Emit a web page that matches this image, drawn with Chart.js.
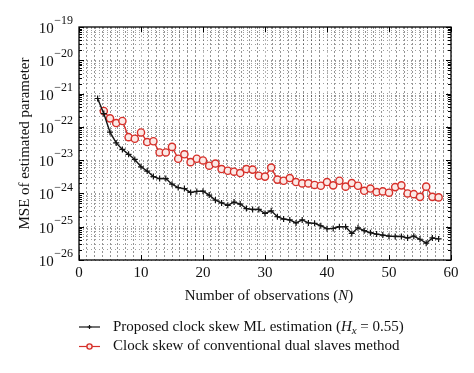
<!DOCTYPE html>
<html>
<head>
<meta charset="utf-8">
<script src="https://cdn.jsdelivr.net/npm/chart.js@4.4.0/dist/chart.umd.min.js"></script>
<style>
  html, body { margin: 0; padding: 0; background: #fff; }
  canvas { display: block; }
</style>
</head>
<body>
<canvas id="mseChart" width="474" height="373"></canvas>
<script>
// Datos (eje Y logarítmico)
const nProposed = [3, 4, 5, 6, 7, 8, 9, 10, 11, 12, 13, 14, 15, 16, 17, 18, 19, 20,
  21, 22, 23, 24, 25, 26, 27, 28, 29, 30, 31, 32, 33, 34, 35, 36, 37, 38, 39, 40,
  41, 42, 43, 44, 45, 46, 47, 48, 49, 50, 51, 52, 53, 54, 55, 56, 57, 58];
const mseProposed = [7.1e-22, 2.5e-22, 6.9e-23, 3.3e-23, 2.1e-23, 1.5e-23, 1.05e-23, 6.3e-24,
  4.7e-24, 3.2e-24, 2.8e-24, 2.8e-24, 1.9e-24, 1.5e-24, 1.4e-24, 1.07e-24, 1.15e-24, 1.17e-24,
  8.9e-25, 6.3e-25, 5.2e-25, 4.4e-25, 5.5e-25, 4.8e-25, 3.5e-25, 3.3e-25, 3.3e-25, 2.5e-25,
  3.0e-25, 2.0e-25, 1.7e-25, 1.6e-25, 1.3e-25, 1.6e-25, 1.3e-25, 1.26e-25, 1.07e-25, 8.7e-26,
  8.9e-26, 1.0e-25, 1.0e-25, 6.3e-26, 9.3e-26, 7.6e-26, 6.6e-26, 6.0e-26, 5.6e-26, 5.2e-26,
  5.1e-26, 5.1e-26, 4.6e-26, 5.2e-26, 4.2e-26, 3.2e-26, 4.6e-26, 4.3e-26];

const nDual = [4, 5, 6, 7, 8, 9, 10, 11, 12, 13, 14, 15, 16, 17, 18, 19, 20,
  21, 22, 23, 24, 25, 26, 27, 28, 29, 30, 31, 32, 33, 34, 35, 36, 37, 38, 39, 40,
  41, 42, 43, 44, 45, 46, 47, 48, 49, 50, 51, 52, 53, 54, 55, 56, 57, 58];
const mseDual = [3.0e-22, 1.8e-22, 1.3e-22, 1.5e-22, 4.9e-23, 4.4e-23, 6.8e-23, 3.5e-23,
  3.7e-23, 1.7e-23, 1.7e-23, 2.5e-23, 1.1e-23, 1.5e-23, 8.7e-24, 1.1e-23, 9.8e-24, 6.8e-24,
  7.9e-24, 5.4e-24, 4.8e-24, 4.5e-24, 4.1e-24, 5.4e-24, 5.2e-24, 3.4e-24, 3.2e-24, 6.0e-24,
  2.6e-24, 2.4e-24, 2.9e-24, 2.2e-24, 2.0e-24, 2.0e-24, 1.8e-24, 1.7e-24, 2.2e-24, 1.75e-24,
  2.4e-24, 1.6e-24, 2.05e-24, 1.7e-24, 1.2e-24, 1.4e-24, 1.1e-24, 1.15e-24, 1.05e-24, 1.55e-24,
  1.75e-24, 1.0e-24, 9.5e-25, 7.9e-25, 1.6e-24, 7.9e-25, 7.6e-25];

// Etiquetas de los ejes
const xTickLabels = [0, 10, 20, 30, 40, 50, 60];
const yTickExponents = [-26, -25, -24, -23, -22, -21, -20, -19];

const FONT = '"Liberation Serif", "DejaVu Serif", serif';
const COLORS = {
  black: '#151515',
  red: '#d6302a',
  gridX: 'rgba(0, 0, 0, 0.42)',
  gridXMajor: 'rgba(0, 0, 0, 0.28)',
  gridY: 'rgba(0, 0, 0, 0.38)'
};

// Líneas de cuadrícula: cada 1.25 en X, menores logarítmicas en Y
function xGridTicks(scale) {
  const ticks = [];
  for (let v = scale.min; v <= scale.max + 1e-9; v += 1.25) ticks.push({ value: v });
  scale.ticks = ticks;
}

function yGridTicks(scale) {
  const ticks = [];
  const last = yTickExponents[yTickExponents.length - 1];
  for (let e = yTickExponents[0]; e < last; e++) {
    for (let m = 1; m <= 9; m++) ticks.push({ value: m * Math.pow(10, e) });
  }
  ticks.push({ value: Math.pow(10, last) });
  scale.ticks = ticks;
}

function isDecade(v) {
  const l = Math.log10(v);
  return Math.abs(l - Math.round(l)) < 1e-6;
}

function drawRuns(ctx, runs, x, y, align) {
  ctx.save();
  ctx.textBaseline = 'middle';
  ctx.textAlign = 'left';
  let total = 0;
  runs.forEach(r => { ctx.font = r.font; total += ctx.measureText(r.text).width; });
  let cx = align === 'center' ? x - total / 2 : x;
  runs.forEach(r => {
    ctx.font = r.font;
    ctx.fillText(r.text, cx, y + (r.dy || 0));
    cx += ctx.measureText(r.text).width;
  });
  ctx.restore();
}

/**
 * Marco, marcas interiores, etiquetas con superíndice, títulos y leyenda.
 */
const frameAndLabels = {
  id: 'frameAndLabels',
  afterDraw(chart) {
    const { ctx, chartArea: a, scales: { x, y } } = chart;
    ctx.save();
    ctx.strokeStyle = '#000';
    ctx.lineWidth = 1.3;
    ctx.strokeRect(a.left, a.top, a.right - a.left, a.bottom - a.top);

    // Marcas del eje Y (izquierda y derecha)
    ctx.lineWidth = 1;
    ctx.beginPath();
    y.ticks.forEach(t => {
      const py = Math.round(y.getPixelForValue(t.value)) + 0.5;
      const len = isDecade(t.value) ? 5 : 3;
      ctx.moveTo(a.left, py); ctx.lineTo(a.left + len, py);
      ctx.moveTo(a.right, py); ctx.lineTo(a.right - len, py);
    });
    // Marcas del eje X (abajo y arriba)
    xTickLabels.forEach(v => {
      const px = Math.round(x.getPixelForValue(v)) + 0.5;
      ctx.moveTo(px, a.bottom); ctx.lineTo(px, a.bottom - 5);
      ctx.moveTo(px, a.top); ctx.lineTo(px, a.top + 5);
    });
    ctx.stroke();

    ctx.fillStyle = '#111';
    // Etiquetas Y: 10 con exponente
    ctx.textBaseline = 'middle';
    ctx.textAlign = 'left';
    yTickExponents.forEach(e => {
      const py = y.getPixelForValue(Math.pow(10, e));
      const expText = '\u2212' + Math.abs(e);
      ctx.font = '12px ' + FONT;
      const expW = ctx.measureText(expText).width;
      ctx.font = '15px ' + FONT;
      const baseW = ctx.measureText('10').width;
      const right = a.left - 6;
      ctx.fillText('10', right - expW - baseW - 0.5, py + 2);
      ctx.font = '12px ' + FONT;
      ctx.fillText(expText, right - expW, py - 6);
    });

    // Etiquetas X
    ctx.font = '15px ' + FONT;
    ctx.textAlign = 'center';
    xTickLabels.forEach(v => {
      ctx.fillText(String(v), x.getPixelForValue(v), a.bottom + 13);
    });

    // Título del eje X con N en cursiva
    drawRuns(ctx, [
      { text: 'Number of observations (', font: '15px ' + FONT },
      { text: 'N', font: 'italic 15px ' + FONT },
      { text: ')', font: '15px ' + FONT }
    ], (a.left + a.right) / 2 + 4, a.bottom + 36, 'center');

    // Título del eje Y
    ctx.save();
    ctx.translate(25, (a.top + a.bottom) / 2);
    ctx.rotate(-Math.PI / 2);
    ctx.font = '15px ' + FONT;
    ctx.textAlign = 'center';
    ctx.fillText('MSE of estimated parameter', 0, 0);
    ctx.restore();

    // Leyenda
    const legendRuns = [
      [
        { text: 'Proposed clock skew ML estimation (', font: '15px ' + FONT },
        { text: 'H', font: 'italic 15px ' + FONT },
        { text: 'x', font: 'italic 11px ' + FONT, dy: 4 },
        { text: ' = 0.55)', font: '15px ' + FONT }
      ],
      [
        { text: 'Clock skew of conventional dual slaves method', font: '15px ' + FONT }
      ]
    ];
    chart.data.datasets.forEach((ds, i) => {
      const ly = 327 + i * 19.5;
      ctx.strokeStyle = ds.borderColor;
      ctx.lineWidth = 1.2;
      ctx.beginPath();
      ctx.moveTo(79, ly); ctx.lineTo(100, ly);
      ctx.stroke();
      ctx.fillStyle = ds.pointBackgroundColor;
      ctx.lineWidth = ds.pointBorderWidth;
      Chart.helpers.drawPoint(ctx, {
        pointStyle: ds.pointStyle, radius: ds.pointRadius - 1, rotation: 0, borderWidth: ds.pointBorderWidth
      }, 89.5, ly);
      ctx.fillStyle = '#111';
      drawRuns(ctx, legendRuns[i], 113, ly, 'left');
    });
    ctx.restore();
  }
};

const ctx = document.getElementById('mseChart').getContext('2d');
new Chart(ctx, {
  type: 'line',
  data: {
    datasets: [
      {
        label: 'Proposed clock skew ML estimation',
        data: nProposed.map((n, i) => ({ x: n, y: mseProposed[i] })),
        borderColor: COLORS.black,
        borderWidth: 1.4,
        pointStyle: 'cross',
        pointRadius: 3,
        pointBorderWidth: 1.2,
        pointBorderColor: COLORS.black,
        pointBackgroundColor: COLORS.black,
        tension: 0
      },
      {
        label: 'Clock skew of conventional dual slaves method',
        data: nDual.map((n, i) => ({ x: n, y: mseDual[i] })),
        borderColor: COLORS.red,
        borderWidth: 1.4,
        pointStyle: 'circle',
        pointRadius: 3.6,
        pointBorderWidth: 1.4,
        pointBorderColor: COLORS.red,
        pointBackgroundColor: '#fbe9e6',
        tension: 0
      }
    ]
  },
  options: {
    responsive: false,
    animation: false,
    devicePixelRatio: 1,
    layout: { padding: { left: 79, right: 23, top: 27, bottom: 113 } },
    plugins: { legend: { display: false }, tooltip: { enabled: false } },
    scales: {
      x: {
        type: 'linear',
        min: 0,
        max: 60,
        afterBuildTicks: xGridTicks,
        ticks: { display: false },
        grid: {
          color: c => (c.tick && c.tick.value % 10 === 0 ? COLORS.gridXMajor : COLORS.gridX),
          lineWidth: 1,
          drawTicks: false
        },
        border: { display: false, dash: [2, 2] }
      },
      y: {
        type: 'logarithmic',
        min: 1e-26,
        max: 1e-19,
        afterBuildTicks: yGridTicks,
        ticks: { display: false },
        grid: { color: COLORS.gridY, lineWidth: 1, drawTicks: false },
        border: { display: false, dash: [1, 3] }
      }
    }
  },
  plugins: [frameAndLabels]
});
</script>
</body>
</html>
